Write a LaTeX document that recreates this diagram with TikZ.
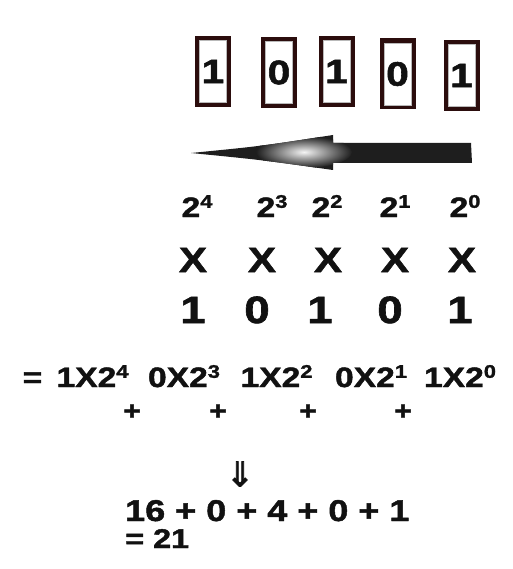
\documentclass[tikz,border=0pt]{standalone}
\usepackage{fontspec}
\setmainfont{Liberation Sans}[FakeStretch=1.2, BoldFeatures={FakeBold=1.6}]
\newfontfamily\arrowfont{DejaVu Sans}[FakeBold=2.5]
\definecolor{ink}{HTML}{111111}
\definecolor{boxline}{HTML}{2B0D0D}
\definecolor{arrowdark}{HTML}{1E1E1E}
\newcommand\pwr[1]{\raisebox{0.33em}{\scalebox{0.65}{#1}}}
\newcommand\arrowshape{(191,153) .. controls (262,146) .. (333,135) -- (333,143) -- (471,143) -- (472,163) -- (333,163) -- (333,170) .. controls (262,160) .. (191,153) -- cycle}

\tikzset{
    txt/.style={inner sep=0pt, text=ink, font=\bfseries},
    bitbox/.style={txt, draw=boxline, line width=4.5pt, minimum width=31.5pt, minimum height=66.5pt,
        font=\bfseries\fontsize{34}{36}\selectfont},
    innerline/.style={draw=gray!55, line width=0.8pt}
}

\begin{document}
\begin{tikzpicture}[x=1pt, y=-1pt]
        \useasboundingbox (0,0) rectangle (512,569);

        % the five bits
        \node[bitbox] (b1) at (213,71.5) {1};
        \node[bitbox] (b2) at (279,72.5) {0};
        \node[bitbox] (b3) at (336.5,71.5) {1};
        \node[bitbox] (b4) at (397.5,74) {0};
        \node[bitbox] (b5) at (461.5,75.5) {1};
        \foreach \b in {b1,b2,b3,b4,b5}
            \draw[innerline] ([shift={(4.5,4.5)}]\b.north west) rectangle ([shift={(-4.5,-4.5)}]\b.south east);

        % direction arrow
        \fill[arrowdark] \arrowshape;
        \begin{scope}
            \clip \arrowshape;
            \shade[inner color=white!92!gray, outer color=arrowdark] (304,152) ellipse (48 and 16);
        \end{scope}

        % powers of two
        \begin{scope}[every node/.style={txt, anchor=base, font=\bfseries\fontsize{28}{30}\selectfont}]
            \node (p4) at (197,217) {2\pwr{4}};
            \node (p3) at (272,217) {2\pwr{3}};
            \node (p2) at (327,217) {2\pwr{2}};
            \node (p1) at (395,217) {2\pwr{1}};
            \node (p0) at (465,217) {2\pwr{0}};
        \end{scope}

        \begin{scope}[every node/.style={txt, anchor=base, font=\bfseries\fontsize{35}{37}\selectfont}]
            \node (x4) at (193,272) {X};
            \node (x3) at (262,272) {X};
            \node (x2) at (328,272) {X};
            \node (x1) at (395,272) {X};
            \node (x0) at (462,272) {X};
        \end{scope}

        \begin{scope}[every node/.style={txt, anchor=base, font=\bfseries\fontsize{38}{40}\selectfont}]
            \node (d4) at (193,323) {1};
            \node (d3) at (257,323) {0};
            \node (d2) at (320,323) {1};
            \node (d1) at (390,323) {0};
            \node (d0) at (460,323) {1};
        \end{scope}

        % expanded sum
        \begin{scope}[every node/.style={txt, anchor=base, font=\bfseries\fontsize{28}{30}\selectfont}]
            \node (eq) at (32.5,387) {=};
            \node (t4) at (92.5,387) {1X2\pwr{4}};
            \node (t3) at (184,387) {0X2\pwr{3}};
            \node (t2) at (276.5,387) {1X2\pwr{2}};
            \node (t1) at (371,387) {0X2\pwr{1}};
            \node (t0) at (460,387) {1X2\pwr{0}};
        \end{scope}

        \begin{scope}[every node/.style={txt, font=\bfseries\fontsize{25}{27}\selectfont}]
            \node (s1) at (132,412) {+};
            \node (s2) at (218,412) {+};
            \node (s3) at (308,412) {+};
            \node (s4) at (403,412) {+};
        \end{scope}

        \node[txt, font=\arrowfont\fontsize{34}{36}\selectfont] (dn) at (240,474) {⇓};

        \node[txt, anchor=base west, font=\bfseries\fontsize{30}{32}\selectfont] (sum) at (125,521) {16 + 0 + 4 + 0 + 1};
        \node[txt, anchor=base west, font=\bfseries\fontsize{27}{29}\selectfont] (res) at (125,548) {= 21};

    \end{tikzpicture}
\end{document}
